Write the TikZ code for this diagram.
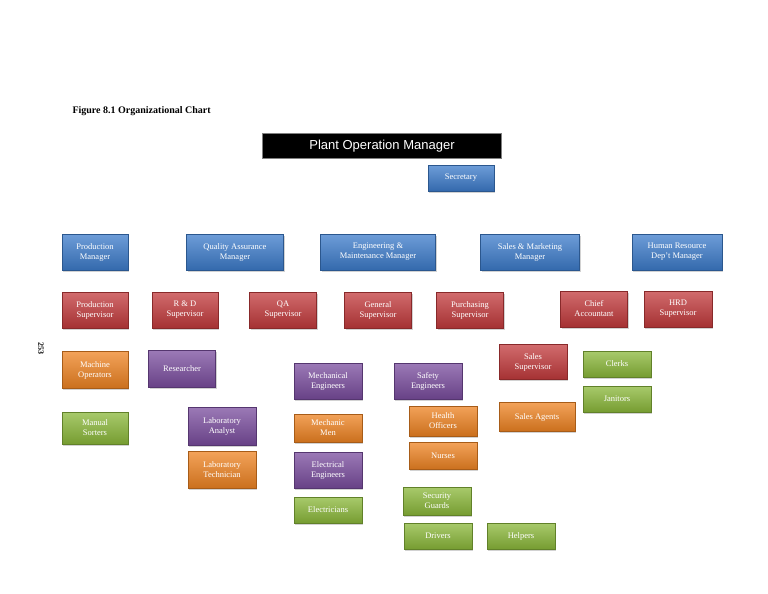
\documentclass[tikz,border=0pt]{standalone}
\usepackage{fontspec}
\setmainfont{Liberation Serif}
\setsansfont{Liberation Sans}
\usetikzlibrary{shadows,backgrounds}
\definecolor{cblue}{HTML}{3D7CCB}
\definecolor{cred}{HTML}{C23A3C}
\definecolor{corange}{HTML}{EE8322}
\definecolor{cpurple}{HTML}{7A4D9E}
\definecolor{cgreen}{HTML}{8BB83A}
\tikzset{
  box/.style={draw=#1!70!black, line width=0.4pt, top color=#1!75!white, bottom color=#1!85!black,
    text=white, font=\fontsize{8.5}{10}\selectfont, align=center, inner sep=1pt,
    drop shadow={opacity=0.35, shadow xshift=1pt, shadow yshift=-1.5pt}},
  bx/.style={box=cblue}, rx/.style={box=cred}, ox/.style={box=corange},
  px/.style={box=cpurple}, gx/.style={box=cgreen},
  ln/.style={line width=1.3pt, black},
}
\begin{document}
\begin{tikzpicture}[x=1pt,y=-1pt]
\fill[white] (0,0) rectangle (768,594);
\useasboundingbox (0,0) rectangle (768,594);
\node[anchor=west, font=\bfseries\fontsize{10}{12}\selectfont] (fig) at (69,111) {Figure 8.1 Organizational Chart};
\node[rotate=-90, font=\bfseries\fontsize{8}{10}\selectfont] (pg) at (41,348) {253};

\node[fill=black, draw=gray, text=white, font=\sffamily\fontsize{13}{15}\selectfont, minimum width=239, minimum height=25] (pom) at (382,146) {Plant Operation Manager};
\node[bx, minimum width=66, minimum height=26] (sec) at (461,178) {Secretary};

\node[bx, minimum width=66, minimum height=36] (pm) at (95,252) {Production\\Manager};
\node[bx, minimum width=97, minimum height=36] (qam) at (235,252) {Quality Assurance\\Manager};
\node[bx, minimum width=115, minimum height=36] (emm) at (378,252) {Engineering \&\\Maintenance Manager};
\node[bx, minimum width=99, minimum height=36] (smm) at (530,252) {Sales \& Marketing\\Manager};
\node[bx, minimum width=90, minimum height=36] (hrm) at (677,252) {Human Resource\\Dep't Manager};

\node[rx, minimum width=66, minimum height=36] (ps) at (95,310) {Production\\Supervisor};
\node[rx, minimum width=66, minimum height=36] (rd) at (185,310) {R \& D\\Supervisor};
\node[rx, minimum width=67, minimum height=36] (qas) at (283,310) {QA\\Supervisor};
\node[rx, minimum width=67, minimum height=36] (gs) at (378,310) {General\\Supervisor};
\node[rx, minimum width=67, minimum height=36] (pur) at (470,310) {Purchasing\\Supervisor};
\node[rx, minimum width=67, minimum height=36] (ca) at (594,309) {Chief\\Accountant};
\node[rx, minimum width=68, minimum height=36] (hrd) at (678,309) {HRD\\Supervisor};

\node[rx, minimum width=68, minimum height=35] (ss) at (533,362) {Sales\\Supervisor};
\node[ox, minimum width=76, minimum height=29] (sa) at (537,417) {Sales Agents};
\node[gx, minimum width=68, minimum height=26] (clk) at (617,364) {Clerks};
\node[gx, minimum width=68, minimum height=26] (jan) at (617,399) {Janitors};

\node[ox, minimum width=66, minimum height=37] (mo) at (95,370) {Machine\\Operators};
\node[gx, minimum width=66, minimum height=32] (ms) at (95,428) {Manual\\Sorters};
\node[px, minimum width=67, minimum height=37] (res) at (182,369) {Researcher};
\node[px, minimum width=68, minimum height=38] (la) at (222,426) {Laboratory\\Analyst};
\node[ox, minimum width=68, minimum height=37] (lt) at (222,470) {Laboratory\\Technician};

\node[px, minimum width=68, minimum height=36] (me) at (328,381) {Mechanical\\Engineers};
\node[ox, minimum width=68, minimum height=28] (mm) at (328,428) {Mechanic\\Men};
\node[px, minimum width=68, minimum height=36] (ee) at (328,470) {Electrical\\Engineers};
\node[gx, minimum width=68, minimum height=26] (el) at (328,510) {Electricians};
\node[px, minimum width=68, minimum height=36] (se) at (428,381) {Safety\\Engineers};
\node[ox, minimum width=68, minimum height=30] (ho) at (443,421) {Health\\Officers};
\node[ox, minimum width=68, minimum height=27] (nu) at (443,456) {Nurses};
\node[gx, minimum width=68, minimum height=28] (sg) at (437,501) {Security\\Guards};
\node[gx, minimum width=68, minimum height=26] (dr) at (438,536) {Drivers};
\node[gx, minimum width=68, minimum height=26] (hp) at (521,536) {Helpers};

\begin{scope}[on background layer]
\draw[ln] (pom.south -| 380,0) -- (380,201);
\draw[ln] (380,178) -- (sec.west);
\draw[ln] (pm.north) |- (380,201) -| (hrm.north -| 680,0);
\draw[ln] (qam.north) -- (235,201);
\draw[ln] (emm.north) -- (378,201);
\draw[ln] (smm.north -| 531,0) -- (531,201);
\draw[ln] (pm) -- (ps); \draw[ln] (ps) -- (mo); \draw[ln] (mo) -- (ms);
\draw[line width=0.8pt] (qam.south) -- (235,281);
\draw[line width=0.8pt] (rd.north) |- (235,281) -| (qas.north);
\draw[ln] (rd.south) -- (rd.south |- res.north);
\draw[ln] (qas.south) -- (283,470) -- (lt.east);
\draw[line width=0.8pt] (283,426) -- (la.east);
\draw[line width=0.8pt] (smm.south -| 531,0) -- (531,281);
\draw[line width=0.8pt] (pur.north) |- (531,281) -| (ca.north);
\draw[ln] (531,281) -- (ss.north -| 531,0);
\draw[ln] (ss.south -| 531,0) -- (sa.north -| 531,0);
\draw[ln] (hrm.south -| 680,0) -- (hrd.north -| 680,0);
\draw[ln] (hrd.south -| 680,0) -- (680,399) -- (jan.east);
\draw[line width=0.8pt] (680,366) -- (clk.east |- 0,366);
\draw[ln] (emm) -- (gs);
\draw[ln] (gs.south) -- (378,346);
\draw[ln] (me.north) |- (378,346) -| (se.north);
\draw[ln] (me) -- (mm); \draw[ln] (ee) -- (el);
\draw[line width=0.8pt] (368,346) -- (368,470) -- (ee.east);
\draw[ln] (388,346) -- (388,502) -- (sg.west |- 0,502);
\draw[ln] (378,346) -- (378,537) -- (dr.west);
\draw[line width=0.8pt] (dr) -- (hp);
\draw[line width=0.8pt] (se.east) -- (486,380) -- (486,458) -- (nu.east |- 0,458);
\draw[line width=0.8pt] (486,423) -- (ho.east |- 0,423);
\end{scope}
\end{tikzpicture}
\end{document}
